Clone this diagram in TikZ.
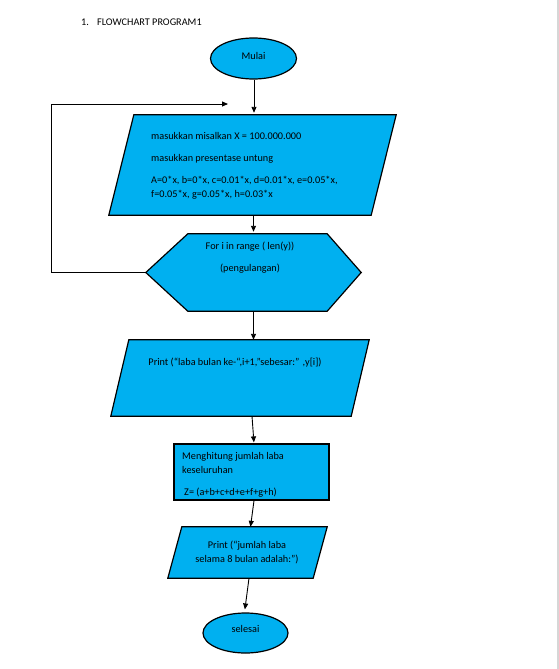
\documentclass[tikz,border=0pt]{standalone}
\usepackage{fontspec}
\setmainfont{Carlito}
\usetikzlibrary{arrows.meta,shapes.geometric,calc}
\definecolor{fc}{HTML}{00B0F0}
\definecolor{edgegray}{RGB}{214,214,214}
\begin{document}
\begin{tikzpicture}[x=1pt,y=-1pt,
  every node/.style={font=\fontsize{10.25}{14}\selectfont, inner sep=0pt},
  shp/.style={draw=black, line width=1.2pt, fill=fc},
  holder/.style={rectangle, draw=none, minimum width=#1},
  arr/.style={draw=black, line width=0.9pt, -{Triangle[length=6pt,width=5pt]}}
]
\useasboundingbox (0,0) rectangle (559,669);
\fill[edgegray] (556.5,0) rectangle (559,669);

% title
\node[anchor=base west] (title) at (81,25.5) {1.\hspace{8.2pt}FLOWCHART PROGRAM1};

% start
\node[ellipse, shp, minimum width=86pt, minimum height=41pt] (start) at (253.5,58.5) {};
\node (startt) at ([yshift=3pt]start.center) {Mulai};

% input parallelogram
\node[holder=262pt, minimum height=100pt] (p1) at (252.5,165) {};
\draw[shp] ($(p1.north west)+(12.5,0)$) -- ($(p1.north east)+(12.5,0)$) -- ($(p1.south east)+(-12.5,0)$) -- ($(p1.south west)+(-12.5,0)$) -- cycle;
\node[align=left, anchor=west] (p1t) at (151,165.5) {masukkan misalkan X = 100.000.000\\[8pt]masukkan presentase untung\\[8pt]A=0*x, b=0*x, c=0.01*x, d=0.01*x, e=0.05*x,\\f=0.05*x, g=0.05*x, h=0.03*x};

% loop hexagon
\node[holder=215pt, minimum height=77pt] (hx) at (253.5,272.5) {};
\draw[shp] (hx.west) -- ($(hx.north west)+(42,0)$) -- ($(hx.north east)+(-34,0)$) -- (hx.east) -- ($(hx.south east)+(-34,0)$) -- ($(hx.south west)+(42,0)$) -- cycle;
\node[align=center] (hxt) at (250,258) {For i in range ( len(y))\\[8pt](pengulangan)};

% print parallelogram
\node[holder=240pt, minimum height=76pt] (p2) at (240,378) {};
\draw[shp] ($(p2.north west)+(9,0)$) -- ($(p2.north east)+(9,0)$) -- ($(p2.south east)+(-9,0)$) -- ($(p2.south west)+(-9,0)$) -- cycle;
\node (p2t) at (235,362.5) {Print (“laba bulan ke-“,i+1,”sebesar:” ,y[i])};

% process rectangle
\node[rectangle, shp, minimum width=155pt, minimum height=56pt] (r) at (251.5,472) {};
\node[align=left, anchor=west] (rt) at (182,474.5) {Menghitung jumlah laba\\keseluruhan\\[8pt]\hspace{2pt}Z= (a+b+c+d+e+f+g+h)};

% print parallelogram 2
\node[holder=145pt, minimum height=51pt] (p3) at (247.5,552.5) {};
\draw[shp] ($(p3.north west)+(7,0)$) -- ($(p3.north east)+(7,0)$) -- ($(p3.south east)+(-7,0)$) -- ($(p3.south west)+(-7,0)$) -- cycle;
\node[align=center] (p3t) at (247,552) {Print (“jumlah laba\\selama 8 bulan adalah:”)};

% end
\node[ellipse, shp, minimum width=85pt, minimum height=40pt] (end) at (245.5,633) {};
\node (endt) at ([yshift=4pt]end.center) {selesai};

% connectors
\coordinate (loopend) at (228,104);
\draw[arr, shorten >=2pt] ([xshift=0.5pt]start.south) -- ([xshift=0.5pt]start.south |- p1.north);
\draw[arr] (hx.west) -- ++(-94,0) |- (loopend);
\draw[arr, shorten >=2pt] (hx.north |- p1.south) -- (hx.north);
\draw[arr] (hx.south) -- (hx.south |- p2.north);
\draw[arr, shorten >=1pt] ([xshift=12pt]p2.south) -- ([xshift=2.5pt]r.north);
\draw[arr] ([xshift=2.5pt]r.south) -- ([xshift=3pt]p3.north);
\draw[arr, shorten >=3pt] ([xshift=1.5pt]p3.south) -- ([xshift=-1pt]end.north);
\end{tikzpicture}
\end{document}
